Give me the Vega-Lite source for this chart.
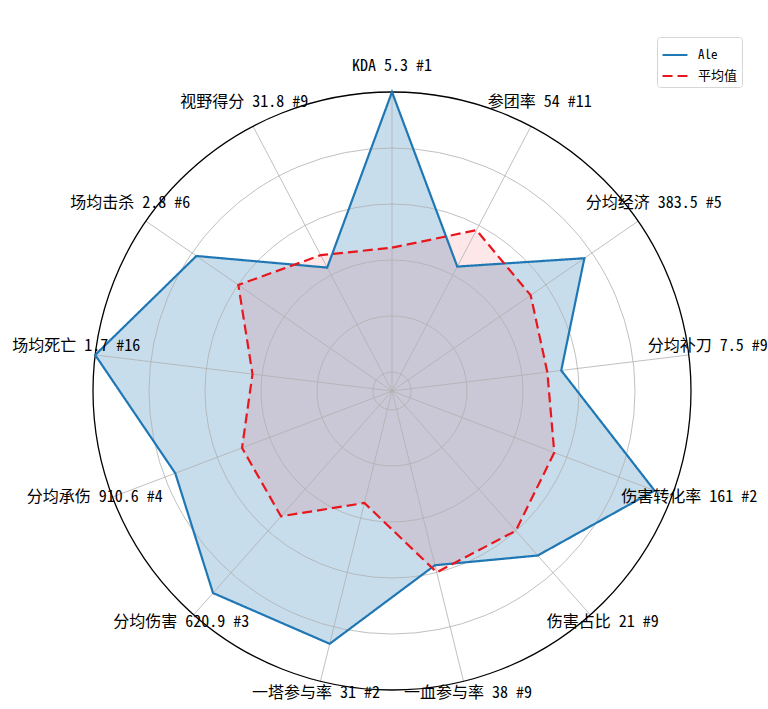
{
  "$schema": "https://vega.github.io/schema/vega-lite/v6.json",
  "width": 768,
  "height": 709,
  "padding": 0,
  "autosize": {"type": "none"},
  "background": "white",
  "config": {
    "view": {"stroke": null},
    "font": "Noto Sans Mono CJK SC, Noto Sans CJK SC, DejaVu Sans Mono"
  },
  "datasets": {
    "radar": [
      {"i": 0, "label": "KDA 5.3 #1", "series": "Ale", "v": 1.0},
      {"i": 1, "label": "参团率 54 #11", "series": "Ale", "v": 0.434},
      {"i": 2, "label": "分均经济 383.5 #5", "series": "Ale", "v": 0.767},
      {"i": 3, "label": "分均补刀 7.5 #9", "series": "Ale", "v": 0.541},
      {"i": 4, "label": "伤害转化率 161 #2", "series": "Ale", "v": 0.935},
      {"i": 5, "label": "伤害占比 21 #9", "series": "Ale", "v": 0.717},
      {"i": 6, "label": "一血参与率 38 #9", "series": "Ale", "v": 0.573},
      {"i": 7, "label": "一塔参与率 31 #2", "series": "Ale", "v": 0.862},
      {"i": 8, "label": "分均伤害 620.9 #3", "series": "Ale", "v": 0.896},
      {"i": 9, "label": "分均承伤 910.6 #4", "series": "Ale", "v": 0.76},
      {"i": 10, "label": "场均死亡 1.7 #16", "series": "Ale", "v": 1.0},
      {"i": 11, "label": "场均击杀 2.8 #6", "series": "Ale", "v": 0.781},
      {"i": 12, "label": "视野得分 31.8 #9", "series": "Ale", "v": 0.43},
      {"i": 0, "label": "KDA 5.3 #1", "series": "平均值", "v": 0.444},
      {"i": 1, "label": "参团率 54 #11", "series": "平均值", "v": 0.581},
      {"i": 2, "label": "分均经济 383.5 #5", "series": "平均值", "v": 0.534},
      {"i": 3, "label": "分均补刀 7.5 #9", "series": "平均值", "v": 0.491},
      {"i": 4, "label": "伤害转化率 161 #2", "series": "平均值", "v": 0.552},
      {"i": 5, "label": "伤害占比 21 #9", "series": "平均值", "v": 0.599},
      {"i": 6, "label": "一血参与率 38 #9", "series": "平均值", "v": 0.599},
      {"i": 7, "label": "一塔参与率 31 #2", "series": "平均值", "v": 0.344},
      {"i": 8, "label": "分均伤害 620.9 #3", "series": "平均值", "v": 0.53},
      {"i": 9, "label": "分均承伤 910.6 #4", "series": "平均值", "v": 0.505},
      {"i": 10, "label": "场均死亡 1.7 #16", "series": "平均值", "v": 0.434},
      {"i": 11, "label": "场均击杀 2.8 #6", "series": "平均值", "v": 0.599},
      {"i": 12, "label": "视野得分 31.8 #9", "series": "平均值", "v": 0.48}
    ],
    "rings": [
      {"v": 0}, {"v": 0.2}, {"v": 0.4}, {"v": 0.6}, {"v": 0.8}, {"v": 1.0}
    ]
  },
  "layer": [
    {
      "data": {"name": "radar"},
      "transform": [
        {"filter": "datum.series == 'Ale'"},
        {"calculate": "datum.i * 2 * PI / 13", "as": "ang"},
        {"calculate": "0.0635 + 0.9365 * datum.v", "as": "rr"},
        {"calculate": "datum.rr * sin(datum.ang)", "as": "px"},
        {"calculate": "datum.rr * cos(datum.ang)", "as": "py"}
      ],
      "mark": {"type": "line", "interpolate": "linear-closed", "filled": true, "fill": "#1f77b4", "fillOpacity": 0.25, "strokeWidth": 0},
      "encoding": {
        "x": {"field": "px", "type": "quantitative", "axis": null,
              "scale": {"domain": [-1.311, 1.2575], "nice": false, "zero": false}},
        "y": {"field": "py", "type": "quantitative", "axis": null,
              "scale": {"domain": [-1.0635, 1.3077], "nice": false, "zero": false}},
        "order": {"field": "i", "type": "quantitative"}
      }
    },
    {
      "data": {"name": "radar"},
      "transform": [
        {"filter": "datum.series == '平均值'"},
        {"calculate": "datum.i * 2 * PI / 13", "as": "ang"},
        {"calculate": "0.0635 + 0.9365 * datum.v", "as": "rr"},
        {"calculate": "datum.rr * sin(datum.ang)", "as": "px"},
        {"calculate": "datum.rr * cos(datum.ang)", "as": "py"}
      ],
      "mark": {"type": "line", "interpolate": "linear-closed", "filled": true, "fill": "#e8161d", "fillOpacity": 0.1, "strokeWidth": 0},
      "encoding": {
        "x": {"field": "px", "type": "quantitative"},
        "y": {"field": "py", "type": "quantitative"},
        "order": {"field": "i", "type": "quantitative"}
      }
    },
    {
      "data": {"name": "radar"},
      "transform": [
        {"filter": "datum.series == 'Ale'"},
        {"calculate": "datum.i * 2 * PI / 13", "as": "ang"},
        {"calculate": "sin(datum.ang)", "as": "sx"},
        {"calculate": "cos(datum.ang)", "as": "sy"}
      ],
      "mark": {"type": "rule", "stroke": "#b0b0b0", "strokeWidth": 0.8},
      "encoding": {
        "x": {"field": "sx", "type": "quantitative"},
        "y": {"field": "sy", "type": "quantitative"},
        "x2": {"datum": 0},
        "y2": {"datum": 0}
      }
    },
    {
      "data": {"name": "rings"},
      "transform": [
        {"calculate": "0.0635 + 0.9365 * datum.v", "as": "rr"}
      ],
      "mark": {"type": "arc", "theta": 0, "theta2": 6.2832, "filled": false},
      "encoding": {
        "x": {"datum": 0, "type": "quantitative"},
        "y": {"datum": 0, "type": "quantitative"},
        "radius": {"field": "rr", "type": "quantitative", "stack": null,
                   "scale": {"type": "linear", "domain": [0, 1], "range": [0, 299], "zero": true, "nice": false}},
        "stroke": {"condition": {"test": "datum.v == 1", "value": "black"}, "value": "#b0b0b0"},
        "strokeWidth": {"condition": {"test": "datum.v == 1", "value": 1.3}, "value": 0.8}
      }
    },
    {
      "data": {"name": "radar"},
      "transform": [
        {"calculate": "datum.i * 2 * PI / 13", "as": "ang"},
        {"calculate": "0.0635 + 0.9365 * datum.v", "as": "rr"},
        {"calculate": "datum.rr * sin(datum.ang)", "as": "px"},
        {"calculate": "datum.rr * cos(datum.ang)", "as": "py"}
      ],
      "mark": {"type": "line", "interpolate": "linear-closed", "strokeWidth": 2.2},
      "encoding": {
        "x": {"field": "px", "type": "quantitative"},
        "y": {"field": "py", "type": "quantitative"},
        "order": {"field": "i", "type": "quantitative"},
        "color": {"field": "series", "type": "nominal", "title": null,
                  "scale": {"domain": ["Ale", "平均值"], "range": ["#1f77b4", "#e8161d"]},
                  "legend": {
                    "orient": "none", "legendX": 657, "legendY": 37,
                    "symbolType": "stroke", "symbolSize": 620, "symbolStrokeWidth": 2.2,
                    "labelFontSize": 13, "labelColor": "black", "labelOffset": 9,
                    "padding": 4, "rowPadding": -8,
                    "strokeColor": "#d6d6d6", "fillColor": "white", "cornerRadius": 3
                  }},
        "strokeDash": {"field": "series", "type": "nominal", "title": null,
                       "scale": {"domain": ["Ale", "平均值"], "range": [[1, 0], [10, 5]]}}
      }
    },
    {
      "data": {"name": "radar"},
      "transform": [
        {"filter": "datum.series == 'Ale'"},
        {"calculate": "datum.i * 2 * PI / 13", "as": "ang"},
        {"calculate": "1.0635 * sin(datum.ang)", "as": "lx"},
        {"calculate": "1.0635 * cos(datum.ang)", "as": "ly"}
      ],
      "mark": {"type": "text", "align": "center", "baseline": "middle", "dy": -7, "fontSize": 16, "color": "black"},
      "encoding": {
        "x": {"field": "lx", "type": "quantitative"},
        "y": {"field": "ly", "type": "quantitative"},
        "text": {"field": "label", "type": "nominal"}
      }
    }
  ]
}
